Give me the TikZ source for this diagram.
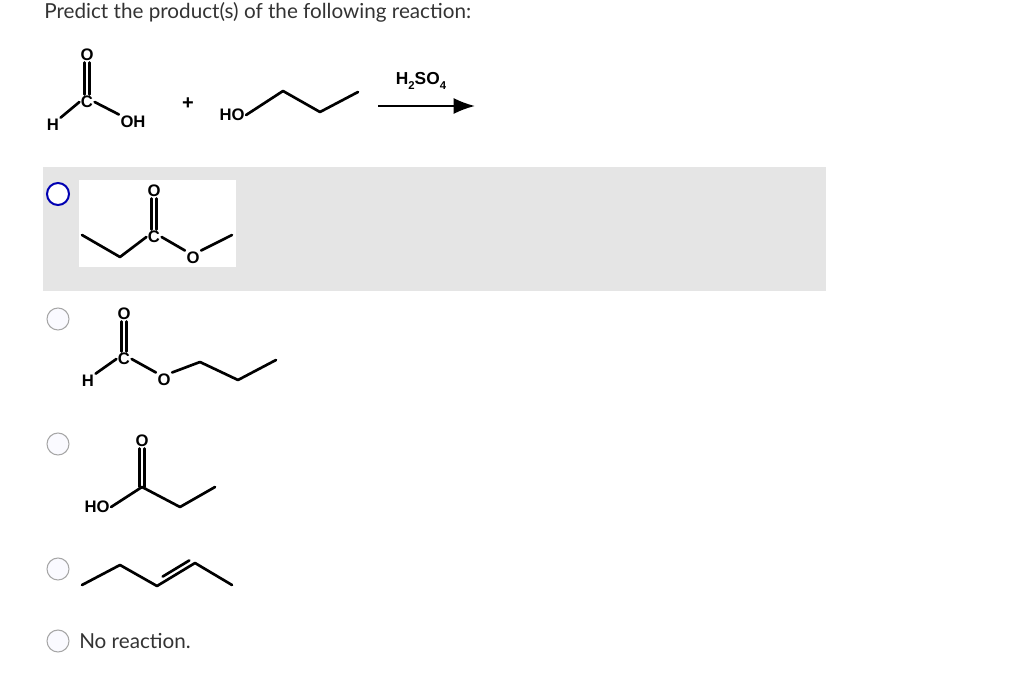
\documentclass[tikz,border=0pt]{standalone}
\usepackage{fontspec}
\setmainfont{Lato}
\newfontfamily\chemfont{Liberation Sans}
\usetikzlibrary{arrows.meta,calc}
\newcommand{\mysub}[1]{\raisebox{-0.25em}{\fontsize{8.5}{9}\selectfont #1}}
\begin{document}
\begin{tikzpicture}[x=0.75pt,y=-0.75pt,
  bond/.style={line width=2pt,line cap=round},
  atom/.style={font=\fontsize{12.5}{13}\selectfont\chemfont\bfseries,inner sep=1pt},
  radio/.style={circle,draw=gray!70,line width=0.8pt,fill=blue!2,minimum size=16.5pt,inner sep=0pt},
  txt/.style={font=\fontsize{15.5}{17}\selectfont,text=black!80,inner sep=0pt}]
\useasboundingbox (0,0) rectangle (1024,677);
\node[txt,anchor=west] (title) at (44,12) {Predict the product(s) of the following reaction:};
% reactant 1
\node[atom] (h1) at (53,125) {H};
\node[atom] (c1) at (87,102) {C};
\node[atom] (o1) at (87,55) {O};
\node[atom] (oh1) at (133,122) {OH};
\draw[bond] (h1.north east) -- (c1.west);
\draw[bond] (c1.east) -- (oh1.north west);
\draw[bond] ([xshift=-2pt]o1.south) -- ([xshift=-2pt]c1.north);
\draw[bond] ([xshift=2pt]o1.south) -- ([xshift=2pt]c1.north);
\node[font=\fontsize{15}{16}\selectfont\chemfont\bfseries] (plus) at (188,104) {+};
% reactant 2
\node[atom] (ho2) at (232,115) {HO};
\coordinate (a1) at (283,91); \coordinate (a2) at (320,112); \coordinate (a3) at (358,92);
\draw[bond,line join=round] (ho2.east) -- (a1) -- (a2) -- (a3);
% arrow
\coordinate (ar1) at (378,106); \coordinate (ar2) at (475,106);
\draw[line width=1.5pt,-{Latex[length=16pt,width=12pt]}] (ar1) -- (ar2);
\node[atom,font=\fontsize{13}{14}\selectfont\chemfont\bfseries] (cat) at (421,81) {H\mysub{2}SO\mysub{4}};
% option 1
\fill[black!10] (43,167) rectangle (826,291);
\fill[white] (79,180) rectangle (236,267);
\node[radio,draw=blue!70!black,line width=1.5pt,fill=white] (r1) at (58,194) {};
\coordinate (p1) at (82,235); \coordinate (p2) at (120,257);
\node[atom] (pc) at (154,237) {C};
\node[atom] (po) at (154,191) {O};
\node[atom] (po2) at (193,258) {O};
\coordinate (p3) at (232,235);
\draw[bond,line join=round] (p1) -- (p2) -- (pc.west);
\draw[bond] (pc.east) -- (po2.north west);
\draw[bond] (po2.north east) -- (p3);
\draw[bond] ([xshift=-2pt]po.south) -- ([xshift=-2pt]pc.north);
\draw[bond] ([xshift=2pt]po.south) -- ([xshift=2pt]pc.north);
% option 2
\node[radio] (r2) at (58,319) {};
\node[atom] (qh) at (88,381) {H};
\node[atom] (qc) at (124,359) {C};
\node[atom] (qo) at (124,314) {O};
\node[atom] (qo2) at (164,380) {O};
\coordinate (q1) at (200,362); \coordinate (q2) at (238,380); \coordinate (q3) at (276,360);
\draw[bond] (qh.north east) -- (qc.west);
\draw[bond] (qc.east) -- (qo2.north west);
\draw[bond,line join=round] (qo2.north east) -- (q1) -- (q2) -- (q3);
\draw[bond] ([xshift=-2pt]qo.south) -- ([xshift=-2pt]qc.north);
\draw[bond] ([xshift=2pt]qo.south) -- ([xshift=2pt]qc.north);
% option 3
\node[radio] (r3) at (58,444) {};
\node[atom] (sho) at (97,507) {HO};
\node[atom] (so) at (142,441) {O};
\coordinate (sc) at (142,487); \coordinate (s1) at (180,507); \coordinate (s2) at (215,487);
\draw[bond,line join=round] (sho.east) -- (sc) -- (s1) -- (s2);
\draw[bond] ([xshift=-2pt]so.south) -- ([xshift=-2pt]sc);
\draw[bond] ([xshift=2pt]so.south) -- ([xshift=2pt]sc);
% option 4
\node[radio] (r4) at (58,569) {};
\coordinate (t1) at (82,585); \coordinate (t2) at (120,565); \coordinate (t3) at (157,586);
\coordinate (t4) at (195,563); \coordinate (t5) at (232,585);
\draw[bond,line join=round] (t1) -- (t2) -- (t3) -- (t4) -- (t5);
\draw[bond] ($(t3)!0.15!(t4)+(0,-6)$) -- ($(t3)!0.85!(t4)+(0,-6)$);
% option 5
\node[radio] (r5) at (58,641) {};
\node[txt,anchor=west] (nr) at (79,641) {No reaction.};
\end{tikzpicture}
\end{document}
